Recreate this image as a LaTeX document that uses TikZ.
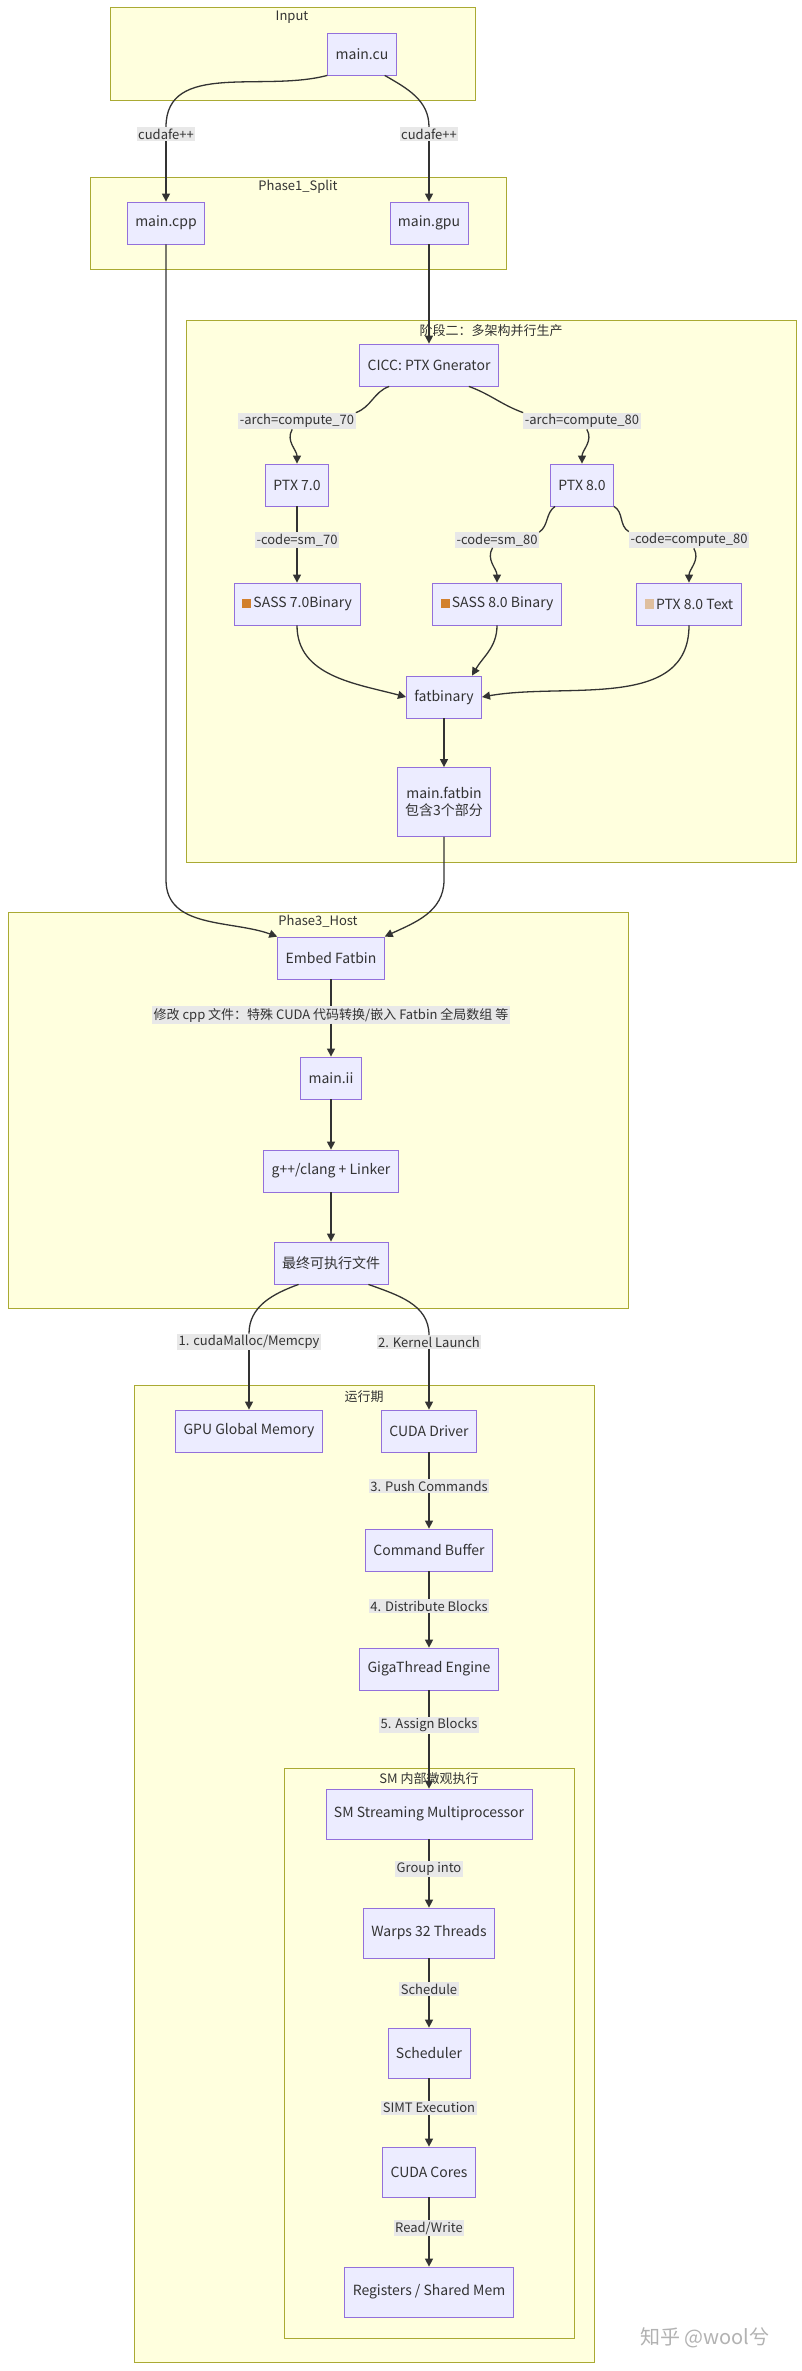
\documentclass[tikz,border=0pt]{standalone}
\usepackage{fontspec}
\setmainfont{Noto Sans CJK SC}
\usepackage{tikz}
\usetikzlibrary{arrows.meta}
\definecolor{clfill}{HTML}{FFFFDE}
\definecolor{cldraw}{HTML}{AAAA33}
\definecolor{ndfill}{HTML}{ECECFF}
\definecolor{nddraw}{HTML}{9370DB}
\definecolor{ink}{HTML}{333333}
\definecolor{lblbg}{HTML}{E8E8E8}
\newcommand{\pkgicon}{\tikz\fill[brown!70!orange] (0,0) rectangle (9pt,9pt);\,}
\newcommand{\scrollicon}{\tikz\fill[brown!50] (0,0) rectangle (9pt,10pt);\,}
\begin{document}
\begin{tikzpicture}[x=1pt,y=-1pt,
    cluster/.style={fill=clfill,draw=cldraw,line width=0.8pt},
    cltitle/.style={text=ink,font=\fontsize{13}{15}\selectfont,inner sep=0pt}]
  \useasboundingbox[fill=white] (0,0) rectangle (801,2371);

  % subgraphs
  \draw[cluster] (110,7) rectangle (475,100);
  \draw[cluster] (90,177) rectangle (506,269);
  \draw[cluster] (186,320) rectangle (796,862);
  \draw[cluster] (8,912) rectangle (628,1308);
  \draw[cluster] (134,1385) rectangle (594,2362);
  \draw[cluster] (284,1768) rectangle (574,2338);
  \node[cltitle] (tin) at (292,17) {Input};
  \node[cltitle] (tsplit) at (298,187) {Phase1\_Split};
  \node[cltitle] (tmulti) at (491,331) {阶段二：多架构并行生产};
  \node[cltitle] (thost) at (318,921) {Phase3\_Host};
  \node[cltitle] (trun) at (364,1397) {运行期};
  \node[cltitle] (tsm) at (429,1779) {SM 内部微观执行};

  \begin{scope}[every node/.style={rectangle,fill=ndfill,draw=nddraw,line width=0.8pt,
      text=ink,minimum height=42pt,inner xsep=8pt,font=\fontsize{14}{17}\selectfont,align=center}]
      \node (cu) at (362,54) {main.cu};

      \node (cpp) at (166,223) {main.cpp};
      \node (gpu) at (429,223) {main.gpu};

      \node (cicc) at (429,365) {CICC: PTX Gnerator};
      \node (ptx70) at (297,485) {PTX 7.0};
      \node (ptx80) at (582,485) {PTX 8.0};
      \node (sass70) at (297,604) {\pkgicon SASS 7.0Binary};
      \node (sass80) at (497,604) {\pkgicon SASS 8.0 Binary};
      \node (ptxtxt) at (689,604) {\scrollicon PTX 8.0 Text};
      \node (fatbin) at (444,697) {fatbinary};
      \node[minimum height=69pt] (mfatbin) at (444,802) {main.fatbin\\包含3个部分};

      \node (embed) at (331,958) {Embed Fatbin};
      \node (mii) at (331,1078) {main.ii};
      \node (link) at (331,1171) {g++/clang + Linker};
      \node (exe) at (331,1263) {最终可执行文件};

      \node (gmem) at (249,1431) {GPU Global Memory};
      \node (drv) at (429,1431) {CUDA Driver};
      \node (cmdbuf) at (429,1550) {Command Buffer};
      \node (giga) at (429,1669) {GigaThread Engine};

      \node[minimum height=50pt] (sm) at (429,1814) {SM Streaming Multiprocessor};
      \node[minimum height=50pt] (warps) at (429,1933) {Warps 32 Threads};
      \node[minimum height=50pt] (sched) at (429,2053) {Scheduler};
      \node[minimum height=50pt] (cores) at (429,2172) {CUDA Cores};
      \node[minimum height=50pt] (regs) at (429,2292) {Registers / Shared Mem};
  \end{scope}

  % edge labels
  \begin{scope}[every node/.style={fill=lblbg,text=ink,inner sep=1.5pt,font=\fontsize{13}{15}\selectfont}]
      \node (lcpp) at (166,134) {cudafe++};
      \node (lgpu) at (429,134) {cudafe++};
      \node (l70) at (297,421) {-arch=compute\_70};
      \node (l80) at (582,421) {-arch=compute\_80};
      \node (lsm70) at (297,540) {-code=sm\_70};
      \node (lsm80) at (497,540) {-code=sm\_80};
      \node (lc80) at (689,540) {-code=compute\_80};
      \node (lmod) at (331,1015) {修改 cpp 文件：特殊 CUDA 代码转换/嵌入 Fatbin 全局数组 等};
      \node (lmal) at (249,1342) {1. cudaMalloc/Memcpy};
      \node (lkl) at (429,1342) {2. Kernel Launch};
      \node (lpush) at (429,1486) {3. Push Commands};
      \node (ldist) at (429,1606) {4. Distribute Blocks};
      \node (lassign) at (429,1725) {5. Assign Blocks};
      \node (lgroup) at (429,1869) {Group into};
      \node (lsch) at (429,1989) {Schedule};
      \node (lsimt) at (429,2108) {SIMT Execution};
      \node (lrw) at (429,2228) {Read/Write};
  \end{scope}

  \node[text=gray!60,font=\fontsize{20}{22}\selectfont] (mark) at (705,2338) {知乎 @wool兮};

  \tikzset{flow/.style={-{Triangle[length=8pt,width=8pt]}, ink, line width=1.3pt}}
  \tikzset{plain/.style={ink, line width=1.3pt}}

  \coordinate (cppdown) at (166,880);
  \coordinate (fatdown) at (444,880);

  \draw[plain] (cu.south west) to[out=195,in=90] (lcpp);
  \draw[flow] (lcpp) -- (cpp);
  \draw[plain] ([xshift=-12pt]cu.south east) to[out=-30,in=90] (lgpu);
  \draw[flow] (lgpu) -- (gpu);
  \draw[flow] (gpu) -- (cicc);

  \draw[plain] ([xshift=30pt]cicc.south west) to[out=200,in=20] (l70.north east);
  \draw[flow] (l70) to[out=-120,in=90] (ptx70);
  \draw[plain] ([xshift=-30pt]cicc.south east) to[out=-20,in=160] (l80.north west);
  \draw[flow] (l80) to[out=-60,in=90] (ptx80);
  \draw[plain] (ptx70) -- (lsm70);
  \draw[flow] (lsm70) -- (sass70);
  \draw[plain] ([xshift=5pt]ptx80.south west) to[out=-145,in=35] (lsm80.north east);
  \draw[flow] (lsm80) to[out=-120,in=90] (sass80);
  \draw[plain] (ptx80.south east) to[out=-30,in=150] (lc80.north west);
  \draw[flow] (lc80) to[out=-60,in=90] (ptxtxt);
  \draw[flow] (sass70) to[out=-90,in=165] (fatbin.west);
  \draw[flow] (sass80) to[out=-90,in=60] ([xshift=-10pt]fatbin.north east);
  \draw[flow] (ptxtxt) to[out=-90,in=10] (fatbin.east);
  \draw[flow] (fatbin) -- (mfatbin);

  \draw[flow] (cpp) -- (cppdown) to[out=-90,in=160] (embed.north west);
  \draw[flow] (mfatbin) -- (fatdown) to[out=-90,in=25] (embed.north east);
  \draw[plain] (embed) -- (lmod);
  \draw[flow] (lmod) -- (mii);
  \draw[flow] (mii) -- (link);
  \draw[flow] (link) -- (exe);

  \draw[plain] ([xshift=25pt]exe.south west) to[out=200,in=90] (lmal);
  \draw[flow] (lmal) -- (gmem);
  \draw[plain] ([xshift=-20pt]exe.south east) to[out=-20,in=90] (lkl);
  \draw[flow] (lkl) -- (drv);
  \draw[plain] (drv) -- (lpush);
  \draw[flow] (lpush) -- (cmdbuf);
  \draw[plain] (cmdbuf) -- (ldist);
  \draw[flow] (ldist) -- (giga);
  \draw[plain] (giga) -- (lassign);
  \draw[flow] (lassign) -- (sm);
  \draw[plain] (sm) -- (lgroup);
  \draw[flow] (lgroup) -- (warps);
  \draw[plain] (warps) -- (lsch);
  \draw[flow] (lsch) -- (sched);
  \draw[plain] (sched) -- (lsimt);
  \draw[flow] (lsimt) -- (cores);
  \draw[plain] (cores) -- (lrw);
  \draw[flow] (lrw) -- (regs);

\end{tikzpicture}
\end{document}
